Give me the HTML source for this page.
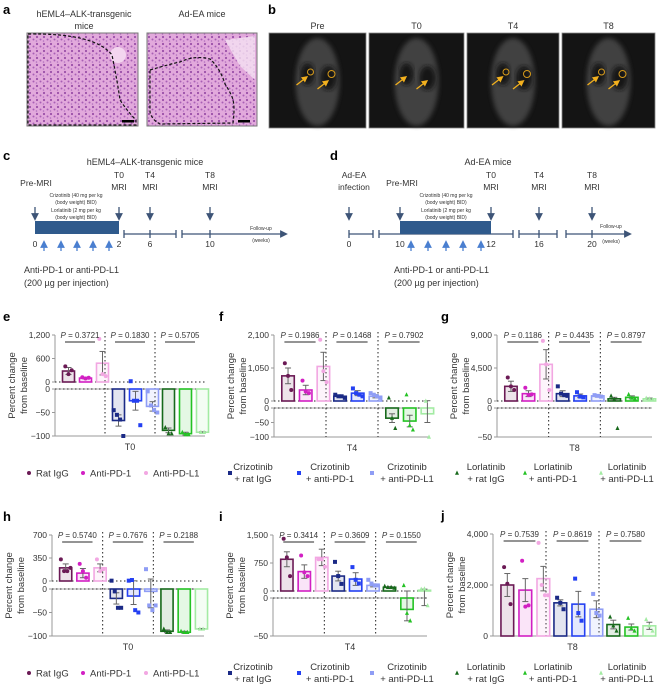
<!DOCTYPE html>
<html><head><meta charset="utf-8">
<style>
html,body{margin:0;padding:0;background:#fff;}
svg{display:block;font-family:"Liberation Sans",sans-serif;}
</style></head>
<body>
<svg id="fig" width="657" height="685" viewBox="0 0 657 685" xmlns="http://www.w3.org/2000/svg">
<defs>
<pattern id="histo" width="7" height="7" patternUnits="userSpaceOnUse">
<rect width="7" height="7" fill="#e2a9dc"/>
<circle cx="2" cy="2" r="1.1" fill="#9a4fa8"/>
<circle cx="5.5" cy="4.5" r="1" fill="#a85fb5"/>
<circle cx="1.5" cy="6" r="0.8" fill="#b070bd"/>
</pattern>
<filter id="blur"><feGaussianBlur stdDeviation="2.5"/></filter>
<marker id="ah" markerWidth="6" markerHeight="6" refX="3" refY="3" orient="auto"><path d="M0,0 L6,3 L0,6 z" fill="#3d5477"/></marker>
<marker id="ahb" markerWidth="6" markerHeight="6" refX="3" refY="3" orient="auto"><path d="M0,0 L6,3 L0,6 z" fill="#4a7fd0"/></marker>
<marker id="ahy" markerWidth="5" markerHeight="5" refX="2.5" refY="2.5" orient="auto"><path d="M0,0 L5,2.5 L0,5 z" fill="#f2b01e"/></marker>
</defs>

<!-- panel a -->
<g>
<text x="3" y="14" font-size="13" font-weight="bold">a</text>
<text x="84" y="17" font-size="9" text-anchor="middle" fill="#333">hEML4–ALK-transgenic</text>
<text x="84" y="29" font-size="9" text-anchor="middle" fill="#333">mice</text>
<text x="202" y="17" font-size="9" text-anchor="middle" fill="#333">Ad-EA mice</text>
<rect x="27" y="33" width="111" height="93" fill="url(#histo)" stroke="#777"/>
<circle cx="118" cy="55" r="8" fill="#f3d6ef"/>
<path d="M28,34 Q95,33 112,55 Q118,85 120,100 Q128,112 136,120 L136,125 L28,125 Z" fill="none" stroke="#111" stroke-dasharray="3,2" stroke-width="1.2"/>
<rect x="122" y="120" width="12" height="2.5" fill="#000"/>
<rect x="147" y="33" width="110" height="93" fill="url(#histo)" stroke="#777"/>
<path d="M225,40 L255,36 L255,80 L240,66 Z" fill="#f5e1f2" opacity="0.8"/>
<path d="M150,70 Q170,64 180,62 Q195,55 210,59 Q220,68 225,84 Q232,95 233,100 Q235,108 233,123 L160,124 Q152,120 150,112 Z" fill="none" stroke="#111" stroke-dasharray="3,2" stroke-width="1.2"/>
<rect x="238" y="120" width="12" height="2.5" fill="#000"/>
</g>

<!-- panel b -->
<g id="panelb">
<text x="268" y="14" font-size="13" font-weight="bold">b</text>
</g>

<!-- panel c -->
<g font-size="8.5" fill="#333">
<text x="3" y="160" font-size="13" font-weight="bold" fill="#000">c</text>
<text x="145" y="165" text-anchor="middle" font-size="9">hEML4–ALK-transgenic mice</text>
<text x="36" y="186" text-anchor="middle">Pre-MRI</text>
<text x="119" y="178" text-anchor="middle">T0</text>
<text x="119" y="190" text-anchor="middle">MRI</text>
<text x="150" y="178" text-anchor="middle">T4</text>
<text x="150" y="190" text-anchor="middle">MRI</text>
<text x="210" y="178" text-anchor="middle">T8</text>
<text x="210" y="190" text-anchor="middle">MRI</text>
<g font-size="5" text-anchor="middle">
<text x="76" y="197">Crizotinib (40 mg per kg</text>
<text x="76" y="204">(body weight) BID)</text>
<text x="76" y="212">Lorlatinib (2 mg per kg</text>
<text x="76" y="219">(body weight) BID)</text>
</g>
<g stroke="#3d5477" stroke-width="1.3">
<line x1="35" y1="207" x2="35" y2="217" marker-end="url(#ah)"/>
<line x1="119" y1="207" x2="119" y2="217" marker-end="url(#ah)"/>
<line x1="150" y1="207" x2="150" y2="217" marker-end="url(#ah)"/>
<line x1="210" y1="207" x2="210" y2="217" marker-end="url(#ah)"/>
<line x1="124" y1="234" x2="176" y2="234"/>
<line x1="182" y1="234" x2="284" y2="234" marker-end="url(#ah)"/>
<line x1="124" y1="230" x2="124" y2="238"/><line x1="176" y1="230" x2="176" y2="238"/>
<line x1="182" y1="230" x2="182" y2="238"/><line x1="150" y1="230" x2="150" y2="238"/><line x1="210" y1="230" x2="210" y2="238"/>
</g>
<rect x="35" y="221" width="84" height="13" fill="#2f5a8c"/>
<text x="35" y="247" text-anchor="middle">0</text><text x="119" y="247" text-anchor="middle">2</text>
<text x="150" y="247" text-anchor="middle">6</text><text x="210" y="247" text-anchor="middle">10</text>
<text x="261" y="230" font-size="5" text-anchor="middle">Follow-up</text>
<text x="261" y="242" font-size="5" text-anchor="middle">(weeks)</text>
<g stroke="#4a7fd0" stroke-width="1.3">
<line x1="44" y1="251" x2="44" y2="244" marker-end="url(#ahb)"/><line x1="61" y1="251" x2="61" y2="244" marker-end="url(#ahb)"/>
<line x1="77" y1="251" x2="77" y2="244" marker-end="url(#ahb)"/><line x1="93" y1="251" x2="93" y2="244" marker-end="url(#ahb)"/>
<line x1="109" y1="251" x2="109" y2="244" marker-end="url(#ahb)"/>
</g>
<text x="24" y="273" font-size="9">Anti-PD-1 or anti-PD-L1</text>
<text x="24" y="286" font-size="9">(200 µg per injection)</text>
</g>

<!-- panel d -->
<g font-size="8.5" fill="#333">
<text x="330" y="160" font-size="13" font-weight="bold" fill="#000">d</text>
<text x="488" y="165" text-anchor="middle" font-size="9">Ad-EA mice</text>
<text x="354" y="178" text-anchor="middle">Ad-EA</text><text x="354" y="190" text-anchor="middle">infection</text>
<text x="402" y="186" text-anchor="middle">Pre-MRI</text>
<text x="491" y="178" text-anchor="middle">T0</text><text x="491" y="190" text-anchor="middle">MRI</text>
<text x="539" y="178" text-anchor="middle">T4</text><text x="539" y="190" text-anchor="middle">MRI</text>
<text x="592" y="178" text-anchor="middle">T8</text><text x="592" y="190" text-anchor="middle">MRI</text>
<g font-size="5" text-anchor="middle">
<text x="446" y="197">Crizotinib (40 mg per kg</text>
<text x="446" y="204">(body weight) BID)</text>
<text x="446" y="212">Lorlatinib (2 mg per kg</text>
<text x="446" y="219">(body weight) BID)</text>
</g>
<g stroke="#3d5477" stroke-width="1.3">
<line x1="349" y1="207" x2="349" y2="217" marker-end="url(#ah)"/>
<line x1="400" y1="207" x2="400" y2="217" marker-end="url(#ah)"/>
<line x1="491" y1="207" x2="491" y2="217" marker-end="url(#ah)"/>
<line x1="539" y1="207" x2="539" y2="217" marker-end="url(#ah)"/>
<line x1="592" y1="207" x2="592" y2="217" marker-end="url(#ah)"/>
<line x1="349" y1="234" x2="373" y2="234"/><line x1="379" y1="234" x2="513" y2="234"/>
<line x1="519" y1="234" x2="557" y2="234"/><line x1="566" y1="234" x2="628" y2="234" marker-end="url(#ah)"/>
<line x1="349" y1="230" x2="349" y2="238"/><line x1="373" y1="230" x2="373" y2="238"/>
<line x1="379" y1="230" x2="379" y2="238"/><line x1="513" y1="230" x2="513" y2="238"/>
<line x1="519" y1="230" x2="519" y2="238"/><line x1="557" y1="230" x2="557" y2="238"/>
<line x1="539" y1="230" x2="539" y2="238"/><line x1="566" y1="230" x2="566" y2="238"/><line x1="592" y1="230" x2="592" y2="238"/>
</g>
<rect x="400" y="221" width="91" height="13" fill="#2f5a8c"/>
<text x="349" y="247" text-anchor="middle">0</text><text x="400" y="247" text-anchor="middle">10</text>
<text x="491" y="247" text-anchor="middle">12</text><text x="539" y="247" text-anchor="middle">16</text>
<text x="592" y="247" text-anchor="middle">20</text>
<text x="611" y="228" font-size="5" text-anchor="middle">Follow-up</text>
<text x="611" y="243" font-size="5" text-anchor="middle">(weeks)</text>
<g stroke="#4a7fd0" stroke-width="1.3">
<line x1="411" y1="251" x2="411" y2="244" marker-end="url(#ahb)"/><line x1="428" y1="251" x2="428" y2="244" marker-end="url(#ahb)"/>
<line x1="446" y1="251" x2="446" y2="244" marker-end="url(#ahb)"/><line x1="463" y1="251" x2="463" y2="244" marker-end="url(#ahb)"/>
<line x1="481" y1="251" x2="481" y2="244" marker-end="url(#ahb)"/>
</g>
<text x="394" y="273" font-size="9">Anti-PD-1 or anti-PD-L1</text>
<text x="394" y="286" font-size="9">(200 µg per injection)</text>
</g>
<g id="charts"></g>
</svg>

<script>
// ---------- chart data ----------
const groupLabels = ["Rat IgG","Anti-PD-1","Anti-PD-L1","Crizotinib + rat IgG","Crizotinib + anti-PD-1","Crizotinib + anti-PD-L1","Lorlatinib + rat IgG","Lorlatinib + anti-PD-1","Lorlatinib + anti-PD-L1"];

const eMeans = [280,100,480,-67,-25,-37,-88,-95,-92];
const eErrs = [90,20,300,12,20,10,5,3,1];
const ePoints = [[400,200,300],[120,90,110],[1100,200,150],[-45,-55,-65,-100],[20,-25,-25,-77],[-5,-35,-45,-50],[-82,-95,-95],[-92,-97,-97],[-92,-92]];
const ePvals = ["0.3721","0.1830","0.5705"];
const eTicksUpper = [0,600,1200];
const eTicksLower = [0,-50,-100];

const fMeans = [800,350,1100,150,250,150,-35,-45,-20];
const fErrs = [250,150,450,40,80,50,15,20,30];
const fPoints = [[1200,800,350],[650,300,250],[1950,950,600],[200,150,150,100],[400,250,200,150],[250,200,150,100],[100,-35,-70],[200,-60,-75],[0,-100]];
const fPvals = ["0.1986","0.1468","0.7902"];
const fTicksUpper = [0,1050,2100];
const fTicksLower = [0,-50,-100];

const gMeans = [2000,1000,5000,1000,700,700,300,500,300];
const gErrs = [700,400,2000,400,250,150,200,200,100];
const gPoints = [[3200,2000,1500],[1800,800,900],[8200,5000,1500],[2000,1000,800,700],[1200,600,500],[800,700,600],[700,200,-35],[900,400,300],[400,300,200]];
const gPvals = ["0.1186","0.4435","0.8797"];
const gTicksUpper = [0,4500,9000];
const gTicksLower = [0,-50];

const hMeans = [200,120,200,-20,-15,-5,-90,-92,-85];
const hErrs = [60,70,60,12,18,35,3,2,1];
const hPoints = [[330,150,150,200],[260,150,50],[330,150,180],[5,-5,-40,-40],[5,15,-45,-50],[180,-35,-45,-35],[-85,-92,-92],[-90,-92,-92],[-85,-85]];
const hPvals = ["0.5740","0.7676","0.2188"];
const hTicksUpper = [0,350,700];
const hTicksLower = [0,-50,-100];

const iMeans = [850,520,900,400,320,150,100,-15,20];
const iErrs = [200,180,220,130,170,40,20,15,30];
const iPoints = [[1400,900,400],[950,500,400],[850,850,650],[780,400,190],[640,300,200],[300,200,150,150],[130,100,100,80],[150,-20,-30],[50,60,-10]];
const iPvals = ["0.3414","0.3609","0.1550"];
const iTicksUpper = [0,750,1500];
const iTicksLower = [0,-50];

const jMeans = [2000,1800,2250,1300,1250,1050,450,350,400];
const jErrs = [450,450,480,120,500,330,170,120,140];
const jPoints = [[2700,2050,1250],[2950,1150,1200],[3650,2000,1600,1600],[1500,1300,1050],[2250,900,600],[1650,900,800],[750,400,200],[700,300,200],[650,400,200]];
const jPvals = ["0.7539","0.8619","0.7580"];
const jTicks = [0,2000,4000];

// ---------- styles ----------
const colors = ["#6b1a55","#d21fc3","#f2a7e2","#1b2a86","#2440f2","#8f9df5","#17691b","#24c224","#a3eba3"];
const shapes = ["c","c","c","s","s","s","t","t","t"];
const NS = "http://www.w3.org/2000/svg";
const root = document.getElementById("charts");
function mk(tag, attrs, parent){const el=document.createElementNS(NS,tag);for(const k in attrs)el.setAttribute(k,attrs[k]);(parent||root).appendChild(el);return el;}
function fmt(v){return v.toLocaleString("en-US").replace("-","\u2212");}

function marker(g,shape,x,y,col,r){
  let el;
  if(shape==="c") el=mk("circle",{cx:x,cy:y,r:r,fill:col},g);
  else if(shape==="s") el=mk("rect",{x:x-r,y:y-r,width:2*r,height:2*r,fill:col},g);
  else el=mk("polygon",{points:`${x},${y-r-0.5} ${x-r},${y+r-0.3} ${x+r},${y+r-0.3}`,fill:col},g);
  return el;
}

function drawPanel(id, geo, means, errs, points, pvals, ticksU, ticksL){
  const g = mk("g",{});
  
  
  const split = ticksL !== null;
  const maxV = ticksU[ticksU.length-1];
  const minV = split ? ticksL[ticksL.length-1] : 0;
  function y(v){
    if(!split || v>=0) return geo.u0 - v/maxV*(geo.u0-geo.top);
    return geo.l0 + v/minV*(geo.bot-geo.l0);
  }
  const gw = (geo.x1-geo.ax)/3;
  function bx(i){const grp=Math.floor(i/3),k=i%3;return geo.ax+grp*gw+gw*(0.15+0.34*k);}
  const bw = gw*0.24;
  const bottom = split ? geo.bot : geo.u0;
  const lab = mk("text",{x:geo.lx,y:geo.top-14,"font-size":13,"font-weight":"bold"},g); lab.textContent=id;
  
  
  const yc=(geo.top+bottom)/2;
  const t1=mk("text",{x:0,y:0,"font-size":9.5,"text-anchor":"middle",fill:"#333",transform:`translate(${geo.ax-40},${yc}) rotate(-90)`},g); t1.textContent="Percent change";
  
  
  const t2=mk("text",{x:0,y:0,"font-size":9.5,"text-anchor":"middle",fill:"#333",transform:`translate(${geo.ax-28},${yc}) rotate(-90)`},g); t2.textContent="from baseline";
  mk("line",{x1:geo.ax,y1:geo.top,x2:geo.ax,y2:geo.u0,stroke:"#999","stroke-width":1},g);
  if(split){
    mk("line",{x1:geo.ax,y1:geo.l0,x2:geo.ax,y2:geo.bot,stroke:"#999","stroke-width":1},g);
    mk("line",{x1:geo.ax,y1:geo.l0,x2:geo.x1,y2:geo.l0,stroke:"#aaa","stroke-width":1},g);
    mk("line",{x1:geo.ax,y1:geo.l0,x2:geo.x1,y2:geo.l0,stroke:"#222","stroke-width":1,"stroke-dasharray":"1.5,2.5"},g);
    mk("line",{x1:geo.ax,y1:geo.u0,x2:geo.x1,y2:geo.u0,stroke:"#222","stroke-width":1,"stroke-dasharray":"1.5,2.5"},g);
  }
  mk("line",{x1:geo.ax,y1:bottom,x2:geo.x1,y2:bottom,stroke:"#999","stroke-width":1},g);
  const allTicks = ticksU.map(v=>[v,y(v)]).concat(split?ticksL.map(v=>[v,v===0?geo.l0:y(v)]):[]);
  allTicks.forEach(([v,py])=>{
    mk("line",{x1:geo.ax-3,y1:py,x2:geo.ax,y2:py,stroke:"#999"},g);
    const tt=mk("text",{x:geo.ax-5,y:py+3,"font-size":8.5,"text-anchor":"end",fill:"#333"},g); tt.textContent=fmt(v);
    
    
  });
  for(let d=1;d<3;d++){const dx=geo.ax+d*gw;mk("line",{x1:dx,y1:geo.top-3,x2:dx,y2:bottom,stroke:"#222","stroke-dasharray":"1.5,2.5"},g);}
  means.forEach((m,i)=>{
    const x=bx(i), col=colors[i];
    const y0 = (split && m<0) ? geo.l0 : geo.u0;
    const ym=y(m);
    const b=mk("rect",{x:x,y:Math.min(y0,ym),width:bw,height:Math.abs(ym-y0),fill:col,"fill-opacity":0.12,stroke:col,"stroke-width":1.6},g);
    
    
    const cx=x+bw/2;
    const ya=y(m+errs[i]), yb=y(m-errs[i]);
    mk("line",{x1:cx,y1:ya,x2:cx,y2:yb,stroke:"#666","stroke-width":1},g);
    mk("line",{x1:cx-3,y1:ya,x2:cx+3,y2:ya,stroke:"#666","stroke-width":1},g);
    mk("line",{x1:cx-3,y1:yb,x2:cx+3,y2:yb,stroke:"#666","stroke-width":1},g);
    points[i].forEach((p,k)=>{
      const off=(k-(points[i].length-1)/2)*3.2;
      const mm=marker(g,shapes[i],cx+off,y(p),col,2);
      
      
    });
  });
  pvals.forEach((p,k)=>{
    const gx=geo.ax+k*gw;
    const tx=mk("text",{x:gx+gw/2,y:geo.top+3,"font-size":8,"text-anchor":"middle",fill:"#333"},g);
    tx.innerHTML='<tspan font-style="italic">P</tspan> = '+p;
    
    
    mk("line",{x1:gx+gw*0.2,y1:geo.top+7,x2:gx+gw*0.8,y2:geo.top+7,stroke:"#555","stroke-width":1.2},g);
  });
  const xl=mk("text",{x:geo.ax+gw*1.5,y:bottom+14,"font-size":9,"text-anchor":"middle",fill:"#333"},g); xl.textContent=geo.xlabel;
  
  
}

drawPanel("e",{lx:3,ax:55,x1:205,top:335,u0:382,l0:389,bot:436,xlabel:"T0"},eMeans,eErrs,ePoints,ePvals,eTicksUpper,eTicksLower);
drawPanel("f",{lx:219,ax:274,x1:430,top:335,u0:401,l0:408,bot:437,xlabel:"T4"},fMeans,fErrs,fPoints,fPvals,fTicksUpper,fTicksLower);
drawPanel("g",{lx:441,ax:497,x1:652,top:335,u0:401,l0:408,bot:437,xlabel:"T8"},gMeans,gErrs,gPoints,gPvals,gTicksUpper,gTicksLower);
drawPanel("h",{lx:3,ax:52,x1:204,top:535,u0:581,l0:589,bot:636,xlabel:"T0"},hMeans,hErrs,hPoints,hPvals,hTicksUpper,hTicksLower);
drawPanel("i",{lx:219,ax:273,x1:427,top:535,u0:591,l0:598,bot:636,xlabel:"T4"},iMeans,iErrs,iPoints,iPvals,iTicksUpper,iTicksLower);
drawPanel("j",{lx:441,ax:493,x1:652,top:534,u0:636,xlabel:"T8"},jMeans,jErrs,jPoints,jPvals,jTicks,null);

// legends
const legX = [29,83,146,230,299,372,457,525,601];
const legTX = [36,90,153,253,330,407,486,553,627];
const legL1 = ["Rat IgG","Anti-PD-1","Anti-PD-L1","Crizotinib","Crizotinib","Crizotinib","Lorlatinib","Lorlatinib","Lorlatinib"];
const legL2 = ["","","","+ rat IgG","+ anti-PD-1","+ anti-PD-L1","+ rat IgG","+ anti-PD-1","+ anti-PD-L1"];
[473,673].forEach(ly=>{
  for(let i=0;i<9;i++){
    const lg=mk("g",{});
    
    
    marker(lg,shapes[i],legX[i],ly,colors[i],2);
    if(i<3){const t=mk("text",{x:legTX[i],y:ly+3.5,"font-size":9.5,fill:"#333"},lg);t.textContent=legL1[i];}
    else{
      const a=mk("text",{x:legTX[i],y:ly-3,"font-size":9.5,"text-anchor":"middle",fill:"#333"},lg);a.textContent=legL1[i];
      const b=mk("text",{x:legTX[i],y:ly+9,"font-size":9.5,"text-anchor":"middle",fill:"#333"},lg);b.textContent=legL2[i];
    }
  }
});

// MRI panel b
const pb=document.getElementById("panelb");
const mriX=[269,369,467,562], mriW=[97,95,92,93], mriLab=["Pre","T0","T4","T8"];
mriX.forEach((x,k)=>{
  const g=mk("g",{},pb);
  
  
  const t=mk("text",{x:x+mriW[k]/2,y:29,"font-size":9,"text-anchor":"middle",fill:"#333"},g);t.textContent=mriLab[k];
  mk("rect",{x:x,y:33,width:mriW[k],height:95,fill:"#141414",stroke:"#888","stroke-width":0.8},g);
  const c=x+mriW[k]/2;
  mk("ellipse",{cx:c,cy:82,rx:22,ry:44,fill:"#4a4a4a",filter:"url(#blur)",opacity:0.85},g);
  mk("ellipse",{cx:c-10,cy:74,rx:7,ry:11,fill:"#151515",filter:"url(#blur)"},g);
  mk("ellipse",{cx:c+11,cy:78,rx:8,ry:12,fill:"#151515",filter:"url(#blur)"},g);
  mk("line",{x1:c-21,y1:85,x2:c-12,y2:78,stroke:"#f2b01e","stroke-width":1.3,"marker-end":"url(#ahy)"},g);
  mk("line",{x1:c,y1:89,x2:c+9,y2:82,stroke:"#f2b01e","stroke-width":1.3,"marker-end":"url(#ahy)"},g);
  if(k!==1){mk("circle",{cx:c-7,cy:72,r:3,fill:"none",stroke:"#d69a1a","stroke-width":1},g);mk("circle",{cx:c+14,cy:74,r:3.5,fill:"none",stroke:"#d69a1a","stroke-width":1},g);}
});
</script>
</body></html>
